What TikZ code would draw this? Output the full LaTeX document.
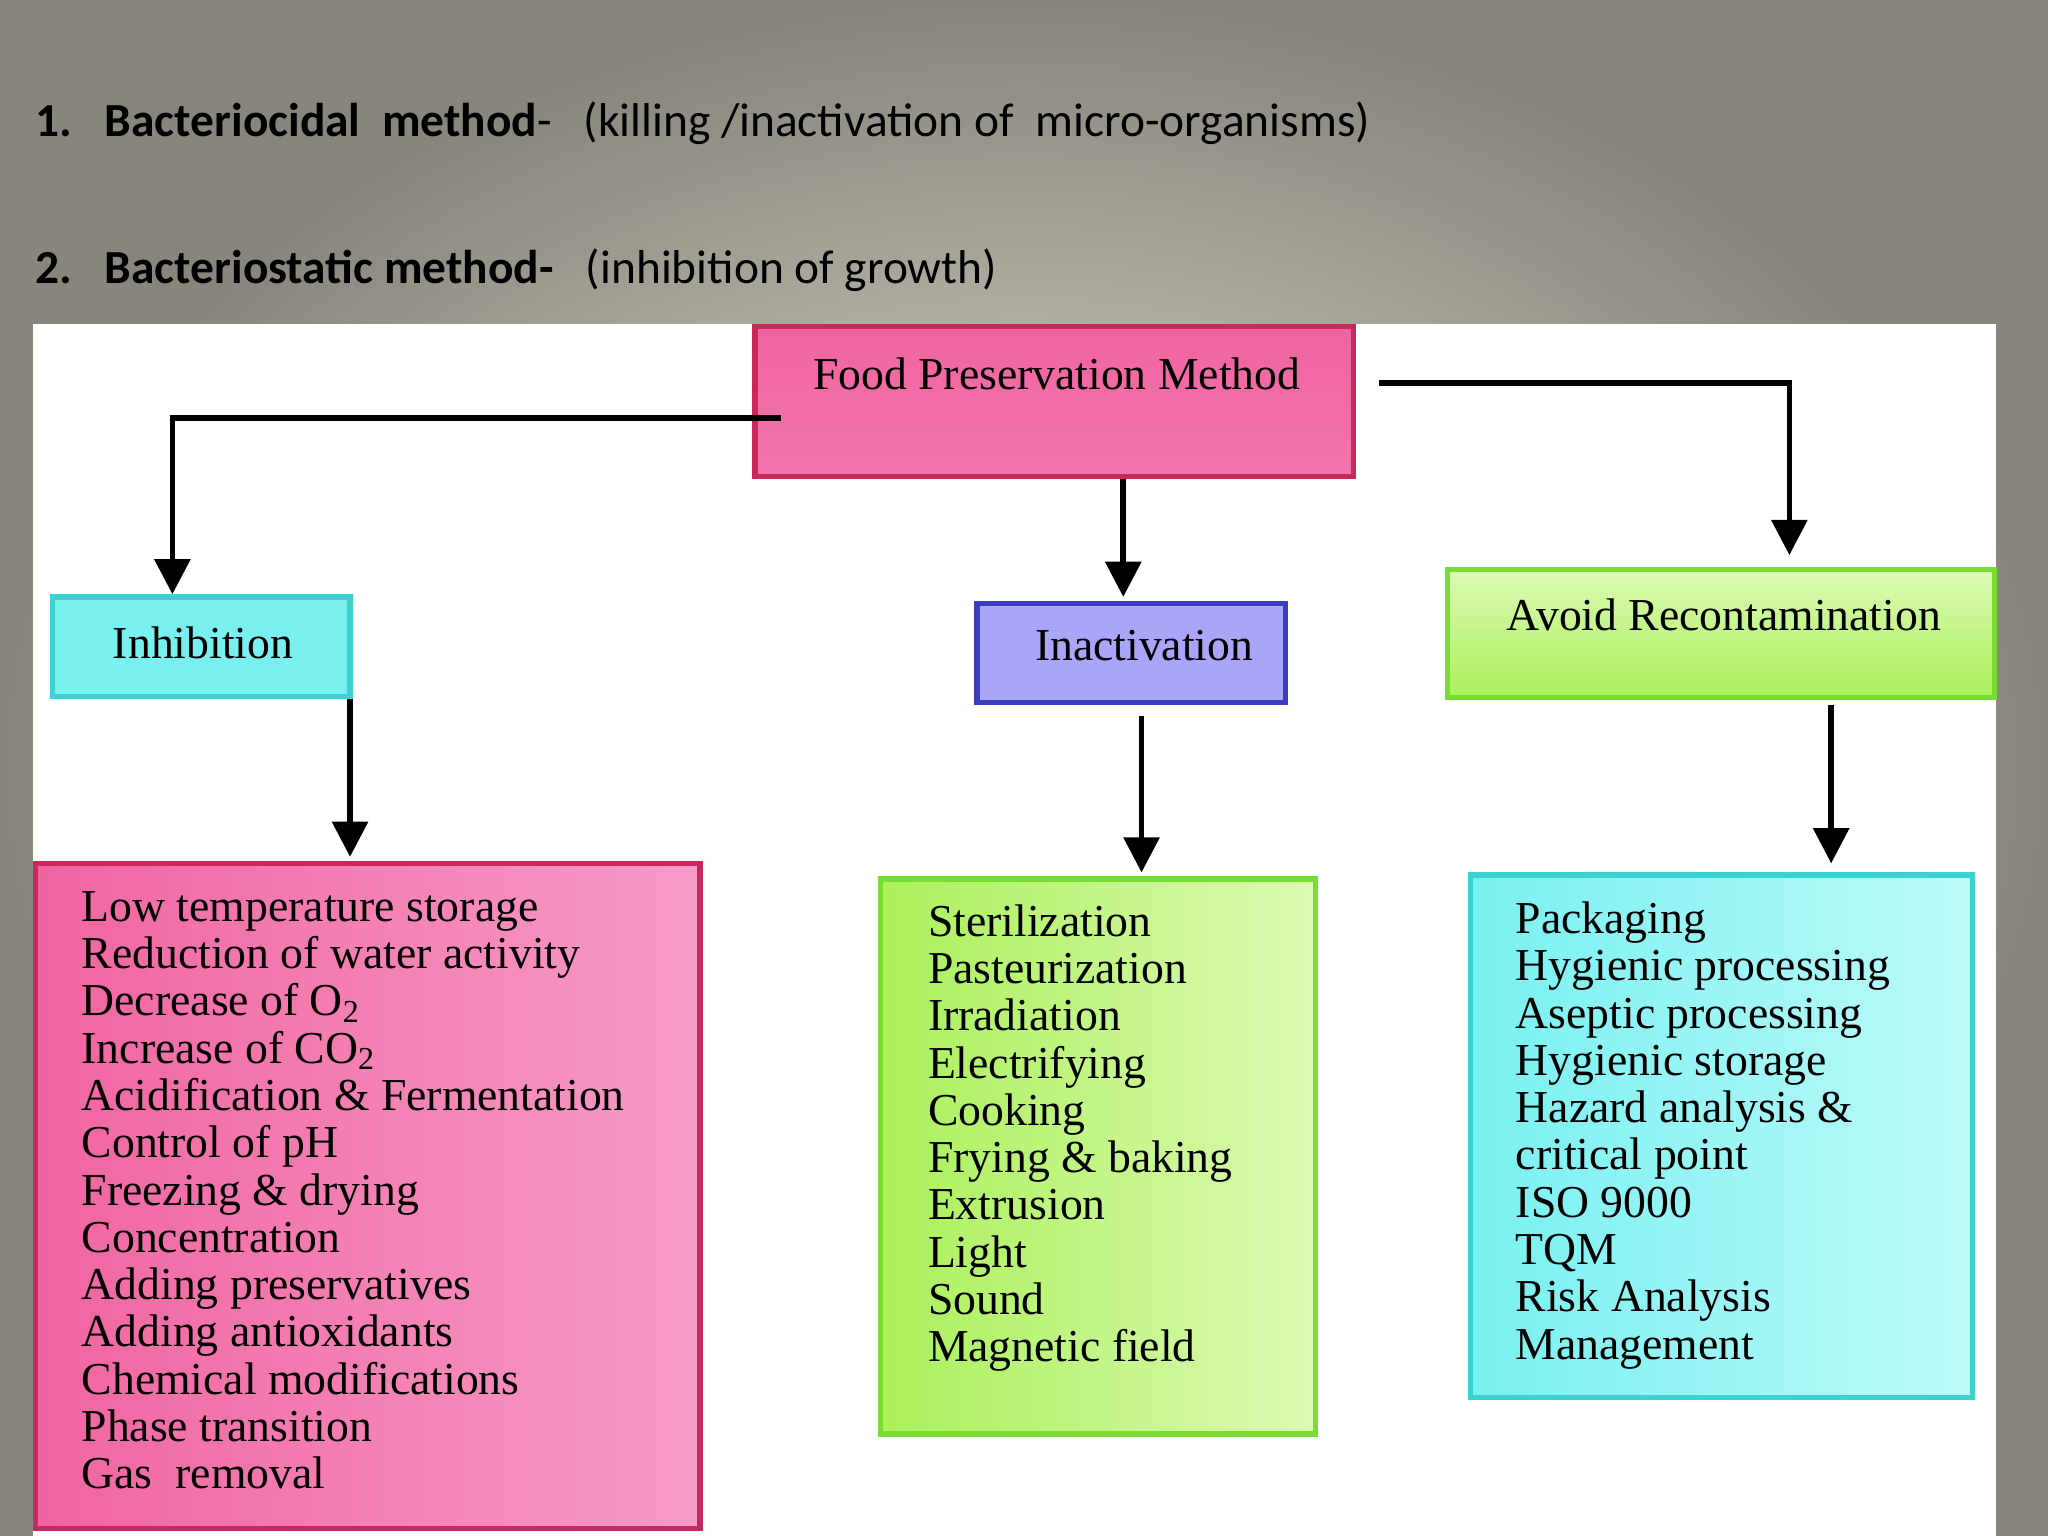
\documentclass[tikz,border=0pt]{standalone}
\usepackage{fontspec}
\setmainfont{Liberation Serif}
\newfontfamily\calfont{Carlito}
\usetikzlibrary{arrows.meta}
\definecolor{pinkf}{RGB}{240,100,160}
\definecolor{pinkl}{RGB}{250,180,215}
\definecolor{pinkd}{RGB}{200,40,90}
\definecolor{cyanf}{RGB}{120,240,240}
\definecolor{cyanl}{RGB}{190,250,250}
\definecolor{cyand}{RGB}{60,210,210}
\definecolor{lavf}{RGB}{170,165,248}
\definecolor{lavd}{RGB}{60,60,190}
\definecolor{grnf}{RGB}{170,240,90}
\definecolor{grnl}{RGB}{220,250,180}
\definecolor{grnd}{RGB}{120,220,50}
\begin{document}
\begin{tikzpicture}[x=0.013061cm,y=-0.013061cm,
 box/.style={draw,line width=1.5pt,inner sep=0pt},
 lbl/.style={font=\fontsize{13}{14}\selectfont,anchor=west},
 lst/.style={font=\fontsize{13}{13.45}\selectfont,align=left,anchor=north west,inner sep=0pt},
 arr/.style={line width=1.6pt,-{Triangle[length=10pt,width=10pt]}}]
\useasboundingbox (0,0) rectangle (1568,1176);
\shade[inner color={rgb,255:red,232;green,229;blue,212},outer color={rgb,255:red,135;green,133;blue,124}] (0,0) rectangle (1568,1176);
\node[anchor=west,font=\calfont\fontsize{13.5}{16}\selectfont] (t1) at (18,94) {\textbf{1.\ \ \ Bacteriocidal\ \ method}-\ \ \ (killing /inactivation of\ \ micro-organisms)};
\node[anchor=west,font=\calfont\fontsize{13.5}{16}\selectfont] (t2) at (18,207) {\textbf{2.\ \ \ Bacteriostatic method-}\ \ \ (inhibition of growth)};
\fill[white] (25,248) rectangle (1528,1176);
% boxes
\path[box,draw=pinkd,top color=pinkf,bottom color=pinkf!80!pinkl] (578,250) rectangle (1036,365);
\node[lbl] (food) at (613,286) {Food Preservation Method};
\path[box,draw=cyand,fill=cyanf] (40,457) rectangle (268,533);
\node[lbl] (inh) at (77,492) {Inhibition};
\path[box,draw=lavd,fill=lavf] (748,462) rectangle (984,538);
\node[lbl] (ina) at (783,494) {Inactivation};
\path[box,draw=grnd,top color=grnl,bottom color=grnf] (1108,436) rectangle (1527,534);
\node[lbl] (avo) at (1144,471) {Avoid Recontamination};
\path[box,draw=pinkd,left color=pinkf,right color=pinkl!70!pinkf] (27,661) rectangle (536,1170);
\path[box,draw=grnd,left color=grnf,right color=grnl] (674,673) rectangle (1007,1098);
\path[box,draw=cyand,left color=cyanf,right color=cyanl] (1126,670) rectangle (1510,1070);
\node[lst] (l1) at (62,682) {Low temperature storage\\Reduction of water activity\\Decrease of O\textsubscript{2}\\Increase of CO\textsubscript{2}\\Acidification \& Fermentation\\Control of pH\\Freezing \& drying\\Concentration\\Adding preservatives\\Adding antioxidants\\Chemical modifications\\Phase transition\\Gas\ \ removal};
\node[lst] (l2) at (710,692) {Sterilization\\Pasteurization\\Irradiation\\Electrifying\\Cooking\\Frying \& baking\\Extrusion\\Light\\Sound\\Magnetic field};
\node[lst] (l3) at (1160,690) {Packaging\\Hygienic processing\\Aseptic processing\\Hygienic storage\\Hazard analysis \&\\critical point\\ISO 9000\\TQM\\Risk Analysis\\Management};
% connectors
\coordinate (a1) at (598,320); \coordinate (a1b) at (132,320); \coordinate (a1e) at (132,455);
\draw[arr] (a1) -- (a1b) -- (a1e);
\coordinate (a2) at (1056,293); \coordinate (a2b) at (1370,293); \coordinate (a2e) at (1370,425);
\draw[arr] (a2) -- (a2b) -- (a2e);
\coordinate (a3) at (860,367); \coordinate (a3e) at (860,457);
\draw[arr] (a3) -- (a3e);
\coordinate (a4) at (268,535); \coordinate (a4e) at (268,656);
\draw[arr] (a4) -- (a4e);
\coordinate (a5) at (874,548); \coordinate (a5e) at (874,668);
\draw[arr] (a5) -- (a5e);
\coordinate (a6) at (1402,540); \coordinate (a6e) at (1402,661);
\draw[arr] (a6) -- (a6e);
\end{tikzpicture}
\end{document}
